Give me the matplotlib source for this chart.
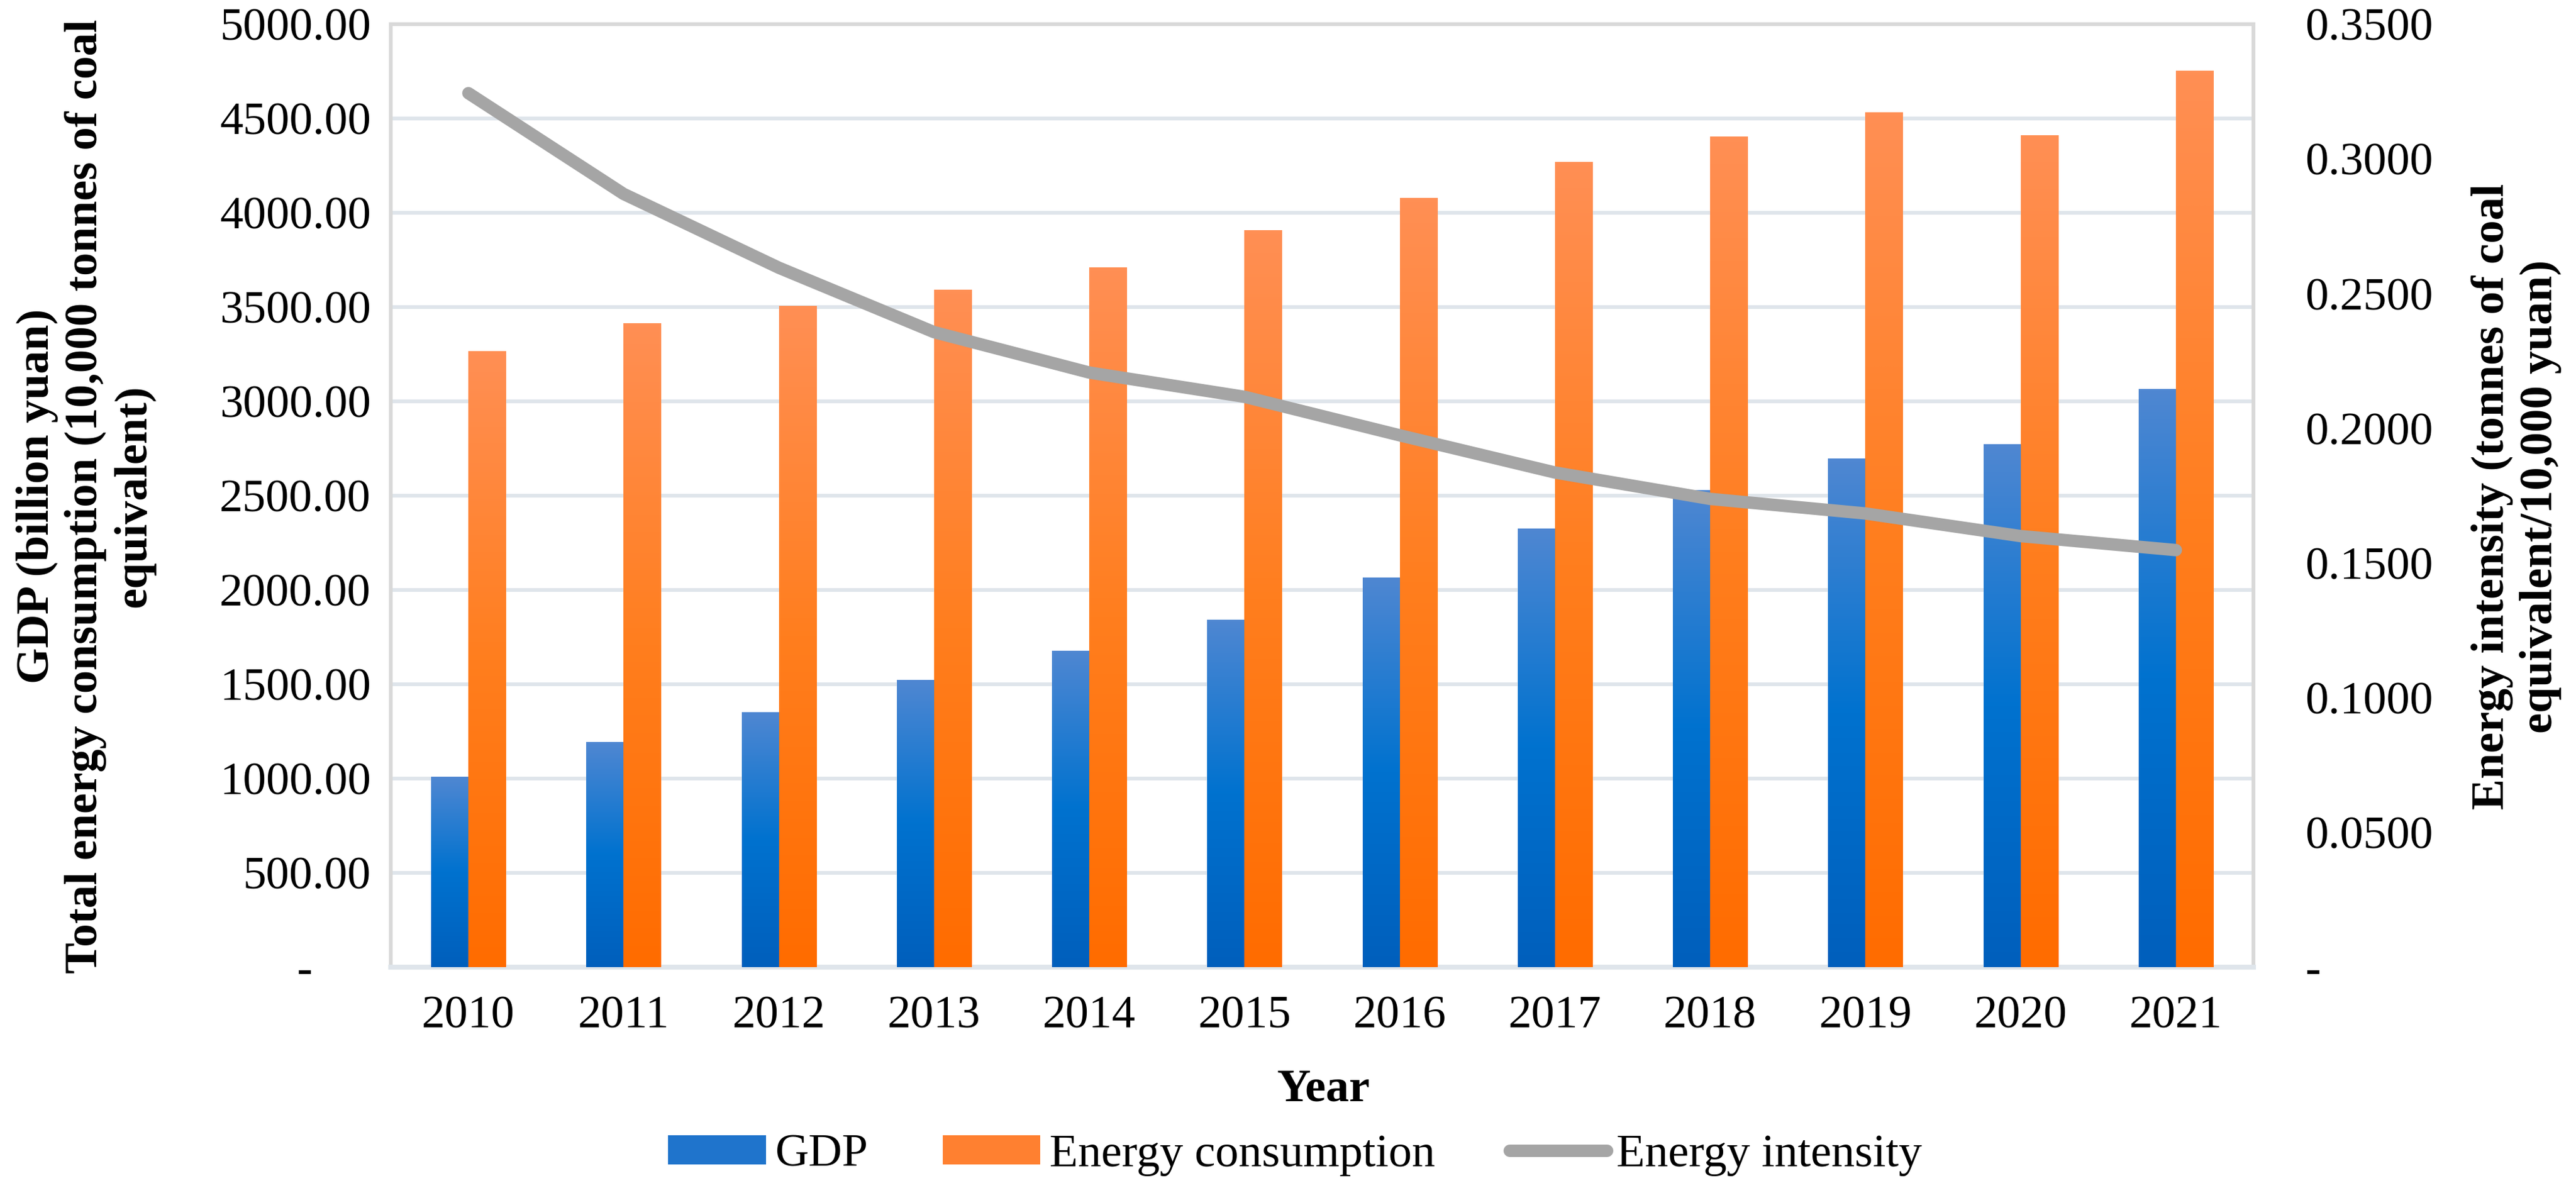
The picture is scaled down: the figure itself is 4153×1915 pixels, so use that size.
import numpy as np
import matplotlib
matplotlib.use("Agg")
import matplotlib.pyplot as plt
from matplotlib.colors import LinearSegmentedColormap
from matplotlib.patches import Patch
from matplotlib.lines import Line2D
from matplotlib.ticker import FuncFormatter, MultipleLocator

# data
years = ["2010", "2011", "2012", "2013", "2014", "2015",
         "2016", "2017", "2018", "2019", "2020", "2021"]
gdp = [1009, 1194, 1351, 1523, 1678, 1843, 2066, 2326, 2530, 2696, 2773, 3066]
energy = [3265, 3413, 3506, 3592, 3711, 3909, 4079, 4271, 4403, 4534, 4411, 4753]
intensity = [0.3244, 0.2870, 0.2596, 0.2357, 0.2207, 0.2117,
             0.1974, 0.1836, 0.1738, 0.1684, 0.1600, 0.1548]

plt.rcParams['font.family'] = ['Liberation Serif', 'DejaVu Serif']
plt.rcParams['font.size'] = 18

blue_cm = LinearSegmentedColormap.from_list("b", ["#005fbc", "#0072cf", "#4f87d2"])
orange_cm = LinearSegmentedColormap.from_list("o", ["#ff6c00", "#ff7e1e", "#ff8f54"])
grid_col = "#dfe5eb"
frame_col = "#d9d9d9"
line_col = "#a5a5a5"

fig = plt.figure(figsize=(4153 / 300, 1915 / 300), dpi=300)
ax = fig.add_axes([630 / 4153, 1 - 1559 / 1915, 3003 / 4153, 1520 / 1915])

x = np.arange(len(years))
w = 0.24
bars_g = ax.bar(x - w / 2, gdp, w, color="#1a70c8", zorder=2)
bars_e = ax.bar(x + w / 2, energy, w, color="#ff8030", zorder=2)

# per-bar vertical gradient
grad = np.linspace(0, 1, 256).reshape(-1, 1)
for bars, cm in ((bars_g, blue_cm), (bars_e, orange_cm)):
    for b in bars:
        x0, y0 = b.get_x(), b.get_y()
        im = ax.imshow(grad, cmap=cm, origin="lower", aspect="auto",
                       extent=(x0, x0 + b.get_width(), y0, y0 + b.get_height()),
                       zorder=3, interpolation="bilinear")
        im.set_clip_path(b)

ax.set_xlim(-0.5, len(years) - 0.5)
ax.set_ylim(0, 5000)
ax.yaxis.set_major_locator(MultipleLocator(500))
ax.yaxis.set_major_formatter(FuncFormatter(lambda v, p: "-     " if v == 0 else "%.2f" % v))
ax.set_xticks(x)
ax.set_xticklabels(years)
ax.grid(axis="y", color=grid_col, linewidth=1.45, zorder=0)
ax.set_axisbelow(True)
ax.tick_params(axis="y", length=0, pad=7.7)
ax.tick_params(axis="x", length=0, pad=11)
for s in ("left", "top", "right"):
    ax.spines[s].set_color(frame_col)
    ax.spines[s].set_linewidth(1.45)
ax.spines["bottom"].set_color(grid_col)
ax.spines["bottom"].set_linewidth(1.9)

ax2 = ax.twinx()
ax2.plot(x, intensity, color=line_col, linewidth=4.8,
         solid_capstyle="round", solid_joinstyle="round", zorder=4)
ax2.set_ylim(0, 0.35)
ax2.yaxis.set_major_locator(MultipleLocator(0.05))
ax2.yaxis.set_major_formatter(FuncFormatter(lambda v, p: "-" if v == 0 else "%.4f" % v))
ax2.tick_params(axis="y", length=0, pad=20)
for s in ax2.spines.values():
    s.set_visible(False)

fig.text(138 / 4153, 1 - 800 / 1915,
         "GDP (billion yuan)\nTotal energy consumption (10,000 tonnes of coal\nequivalent)",
         rotation=90, ha="center", va="center", ma="center", fontweight="bold")
fig.text(4057 / 4153, 1 - 800 / 1915,
         "Energy intensity (tonnes of coal\nequivalent/10,000 yuan)",
         rotation=90, ha="center", va="center", ma="center", fontweight="bold")
fig.text(2134 / 4153, 1 - 1756 / 1915, "Year", ha="center", va="center",
         fontweight="bold")

handles = [Patch(facecolor="#1f74cc"), Patch(facecolor="#ff8030"),
           Line2D([0], [0], color=line_col, linewidth=4.8, solid_capstyle="round")]
fig.legend(handles, ["GDP", "Energy consumption", "Energy intensity"],
           loc="center", bbox_to_anchor=(2088 / 4153, 1 - 1862 / 1915), ncol=3,
           frameon=False, handlelength=2.1, handleheight=0.6,
           handletextpad=0.2, columnspacing=1.6)

fig.savefig("out.png", dpi=300)
